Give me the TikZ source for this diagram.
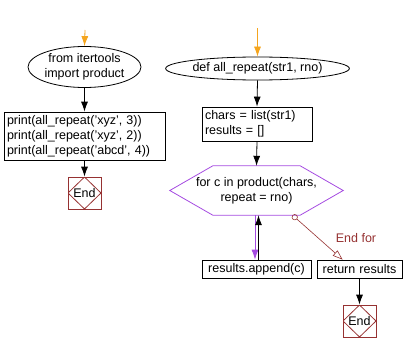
\documentclass[tikz,border=0pt]{standalone}
\usepackage{fontspec}
\setmainfont{Liberation Sans}
\usetikzlibrary{arrows.meta,calc,shapes.geometric}
\definecolor{orng}{RGB}{245,165,30}
\definecolor{purp}{RGB}{165,75,225}
\definecolor{dred}{RGB}{150,50,50}
\begin{document}
\begin{tikzpicture}[x=1pt,y=-1pt,
  font=\fontsize{12.5}{15}\selectfont,
  every node/.style={inner sep=0pt},
  box/.style={draw, line width=0.8pt, align=left, inner xsep=3pt, minimum height=#1},
  oval/.style={draw, ellipse, line width=0.8pt, align=center},
  endbox/.style={draw=dred, line width=0.8pt, minimum width=33, minimum height=32,
    path picture={\draw[dred, line width=0.8pt] (path picture bounding box.north) -- (path picture bounding box.east) -- (path picture bounding box.south) -- (path picture bounding box.west) -- cycle;}},
  arr/.style={-{Latex[length=10pt,width=7pt]}, line width=0.8pt},
]
\useasboundingbox (0,0) rectangle (404,353);

% left flow
\coordinate (s1) at (85,30);
\node[oval, minimum width=105, minimum height=41] (e1) at (84.5,67) {from itertools\\import product};
\node[box=48, text width=155] (box1) at (84.5,136) {print(all\_repeat('xyz', 3))\\print(all\_repeat('xyz', 2))\\print(all\_repeat('abcd', 4))};
\node[endbox] (end1) at (84.5,193) {End};
\draw[arr, orng] (s1) -- (e1.north);
\draw[arr] (e1.south) -- (box1.north);
\draw[arr] (box1.south) -- (end1.north);

% right flow
\coordinate (s2) at (257.5,28);
\node[oval, minimum width=151, minimum height=23] (def) at (257.5,68.5) {def all\_repeat(str1, rno)};
\node[box=34, text width=104] (box2) at (257,124) {chars = list(str1)\\results = []};
\node[minimum width=173, minimum height=49, align=center] (hex) at (256.5,190.5) {for c in product(chars,\\repeat = rno)};
\draw[purp, line width=0.8pt] ($(hex.north west)+(43,0)$) -- ($(hex.north east)+(-43,0)$) -- (hex.east) -- ($(hex.south east)+(-43,0)$) -- ($(hex.south west)+(43,0)$) -- (hex.west) -- cycle;
\node[box=18, text width=103, align=center] (app) at (256.5,269) {results.append(c)};
\node[box=18, text width=79, align=center] (ret) at (359.5,269) {return results};
\node[endbox] (end2) at (359.5,321) {End};
\node[text=dred] (endfor) at (356,238) {End for};

\draw[arr, orng] (s2) -- (def.north);
\draw[arr] (def.south) -- (box2.north);
\draw[arr] (box2.south) -- (hex.north);
\draw[arr, purp] ($(hex.south)+(-1.5,0)$) -- ($(app.north)+(-1.5,0)$);
\draw[arr] ($(app.north)+(2,0)$) -- ($(hex.south)+(2,0)$);
\draw[dred, line width=0.6pt, {Circle[open,length=6pt,width=6pt]}-{Triangle[open,length=10pt,width=7pt]}] ($(hex.south)+(36,0)$) -- ($(ret.north west)+(26,0)$);
\draw[arr] (ret.south) -- (end2.north);
\end{tikzpicture}
\end{document}
